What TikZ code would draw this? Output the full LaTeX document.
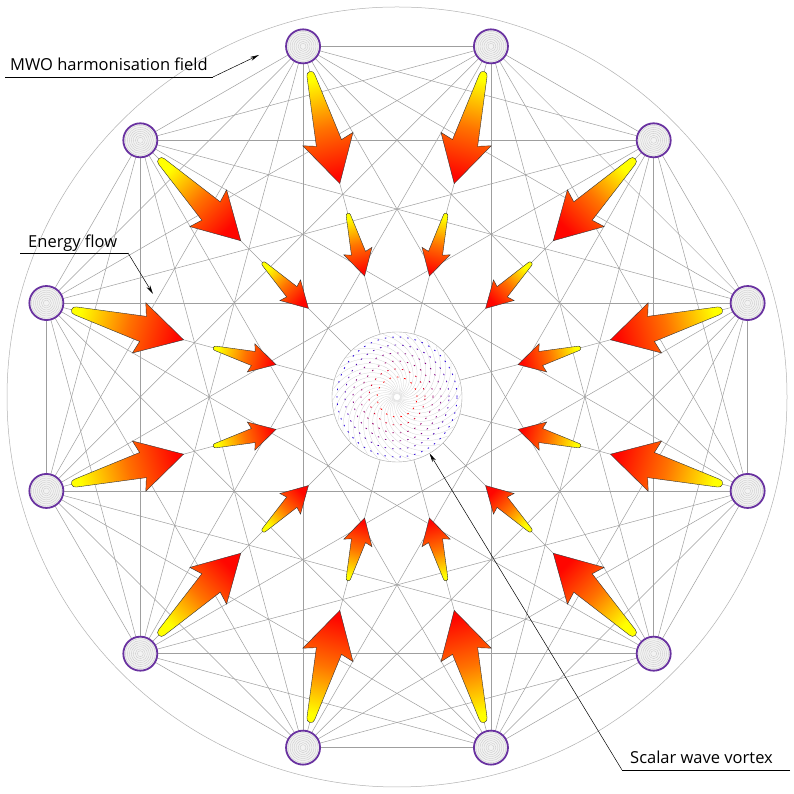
\documentclass[tikz,border=0pt]{standalone}
\usepackage{fontspec}
\setmainfont{Open Sans}
\usetikzlibrary{arrows.meta,calc}
\definecolor{nodepurple}{RGB}{105,50,160}
\begin{document}
\begin{tikzpicture}[x=1pt,y=1pt,
  chord/.style={gray!75,line width=0.5pt},
  flowarrow/.style={draw=black!80,line width=0.4pt,bottom color=yellow,top color=red!95!orange,middle color=orange!90!red},
  lbl/.style={font=\fontsize{16.5}{19}\selectfont,anchor=base west,inner sep=0},
  pointer/.style={line width=0.5pt,-{Stealth[length=9pt,width=4pt]}}]
\useasboundingbox (0,0) rectangle (794,794);
\fill[white] (0,0) rectangle (794,794);
\coordinate (c) at (397,397);
\draw[gray!60,line width=0.5pt] (c) circle (390);
% nodes positions
\foreach \i in {0,...,11}{
  \coordinate (n\i) at ($(c)+({15+30*\i}:363)$);
}
\foreach \i in {0,...,11}{
  \foreach \j in {0,...,11}{
    \ifnum\j>\i \draw[chord] (n\i) -- (n\j); \fi
  }
}
% vortex
\node[circle,fill=white,draw=gray!70,minimum size=130pt,inner sep=0] (vortex) at (c) {};
\begin{scope}[shift={(397,397)}]
\foreach \k in {0,10,...,350}{
  \draw[gray!35,line width=0.25pt] plot[domain=3:64,samples=25] ({\k+\x*1.6}:{\x});
}
\foreach \r/\col in {20/red,28/red!70!violet,36/violet!80!red,44/violet,52/violet!60!blue,60/blue!70!violet}{
  \draw[\col,line width=0.8pt,dash pattern=on 1.5pt off 6pt] (0,0) circle (\r);
}
\fill[white] (0,0) circle (3);
\end{scope}
% arrows
\foreach \i in {0,...,11}{
  \pgfmathsetmacro\ang{15+30*\i}
  \pgfmathsetmacro\sang{\ang+90}
  \begin{scope}[shift={($(c)+(\ang:333)$)},rotate=\ang+180]
    \path[flowarrow,shading angle=\sang] (0,4) -- (70,13) -- (66,26) -- (112,0) -- (66,-26) -- (70,-13) -- (0,-4) arc[start angle=-90,end angle=-270,radius=4] -- cycle;
  \end{scope}
  \begin{scope}[shift={($(c)+(\ang:188)$)},rotate=\ang+180,scale=0.56]
    \path[flowarrow,shading angle=\sang] (0,4) -- (70,13) -- (66,26) -- (112,0) -- (66,-26) -- (70,-13) -- (0,-4) arc[start angle=-90,end angle=-270,radius=4] -- cycle;
  \end{scope}
}
% node circles
\foreach \i in {0,...,11}{
  \fill[gray!10] (n\i) circle (17);
  \foreach \r in {3,5,...,15} \draw[gray!45,line width=0.3pt] (n\i) circle (\r);
  \draw[nodepurple,line width=1.8pt] (n\i) circle (17);
}
% labels
\node[lbl] (l1) at (10,723) {MWO harmonisation field};
\coordinate (u1) at (5,717);
\coordinate (k1) at (213,717);
\coordinate (t1) at (259,739);
\draw[line width=0.5pt] (u1) -- (k1);
\draw[pointer] (k1) -- (t1);
\node[lbl] (l2) at (28,546) {Energy flow};
\coordinate (u2) at (20,541);
\coordinate (k2) at (128,541);
\coordinate (t2) at (153,500);
\draw[line width=0.5pt] (u2) -- (k2);
\draw[pointer] (k2) -- (t2);
\node[lbl] (l3) at (630,30) {Scalar wave vortex};
\coordinate (u3) at (790,24);
\coordinate (k3) at (622,24);
\draw[line width=0.5pt] (u3) -- (k3);
\draw[pointer] (k3) -- (vortex.-60);
\end{tikzpicture}
\end{document}
